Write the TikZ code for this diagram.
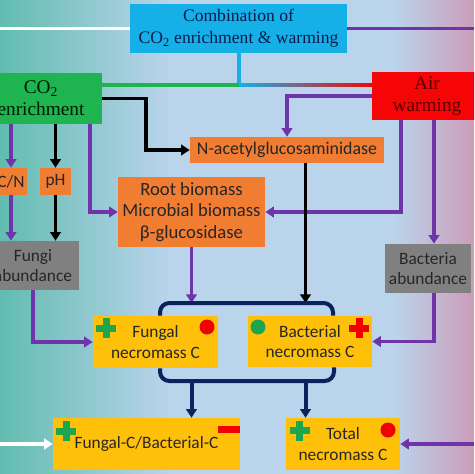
\documentclass[tikz,border=0pt]{standalone}
\usepackage{fontspec}
\setmainfont{Carlito}
\newfontfamily\timesx{Liberation Serif}
\usetikzlibrary{arrows.meta}

\definecolor{bgteal}{RGB}{98,188,176}
\definecolor{bgblue}{RGB}{186,212,236}
\definecolor{bgpink}{RGB}{204,156,184}
\definecolor{cbox}{RGB}{22,176,232}
\definecolor{gbox}{RGB}{30,180,80}
\definecolor{rbox}{RGB}{245,5,5}
\definecolor{obox}{RGB}{240,125,50}
\definecolor{gybox}{RGB}{128,128,128}
\definecolor{ybox}{RGB}{255,192,10}
\definecolor{lpurple}{RGB}{112,52,170}
\definecolor{nv}{RGB}{10,35,95}
\definecolor{icongreen}{RGB}{30,165,80}
\definecolor{iconred}{RGB}{240,0,0}

\tikzset{
  bw/.style={minimum width=#1*0.75pt},
  bh/.style={minimum height=#1*0.75pt},
  box/.style={inner sep=0pt, align=center, text=black!85, font=\fontsize{13}{15.5}\selectfont},
  sbox/.style={box, font=\timesx\fontsize{14.5}{16.5}\selectfont},
  arr/.style={-{Triangle[length=6.5pt,width=8pt]}},
  link/.style={line width=2.6pt, lpurple},
  blk/.style={line width=2.6pt, black},
  brace/.style={line width=3pt, nv},
  crosspic/.pic={\fill (-10,-3.5) rectangle (10,3.5); \fill (-3.5,-10) rectangle (3.5,10);},
  dotpic/.pic={\fill (0,0) circle[radius=7.5];},
  barpic/.pic={\fill (-11,-3.2) rectangle (11,3.2);}
}

\begin{document}
\begin{tikzpicture}[x=0.75pt,y=-0.75pt]

\clip (0,0) rectangle (474,474);
\shade[left color=bgteal, right color=bgblue] (0,0) rectangle (170,474);
\fill[bgblue] (170,0) rectangle (395,474);
\shade[left color=bgblue, right color=bgpink] (395,0) rectangle (474,474);

% treatments
\node[sbox, fill=cbox, bw=217, bh=49, font=\timesx\fontsize{13.2}{16.5}\selectfont, text=nv!80!black] (comb) at (238.5,28.5) {Combination of\\CO\textsubscript{2} enrichment \& warming};
\node[sbox, fill=gbox, bw=122, bh=51, text=black!90!green] (co2) at (41,98.5) {CO\textsubscript{2}\\enrichment};
\node[sbox, fill=rbox, bw=110, bh=48, text=red!35!black] (air) at (427,96) {Air\\warming};

% drivers
\node[box, fill=obox, bw=194, bh=26, font=\fontsize{13.4}{15.5}\selectfont] (nag) at (287,150) {N-acetylglucosaminidase};
\node[box, fill=obox, bw=32, bh=27] (cn) at (11,181.5) {C/N};
\node[box, fill=obox, bw=31, bh=27] (ph) at (55.5,181.5) {pH};
\node[box, fill=obox, bw=147, bh=70, font=\fontsize{14}{16}\selectfont] (root) at (191.5,212) {Root biomass\\Microbial biomass\\β-glucosidase};
\node[box, fill=gybox, bw=92, bh=49] (fungi) at (33,265.5) {Fungi\\abundance};
\node[box, fill=gybox, bw=86, bh=49] (bact) at (428,268.5) {Bacteria\\abundance};

% necromass
\node[box, fill=ybox, bw=125, bh=52] (fnec) at (155.5,342) {Fungal\\necromass C};
\node[box, fill=ybox, bw=124, bh=51] (bnec) at (310,341.5) {Bacterial\\necromass C};
\node[box, fill=ybox, bw=187, bh=52] (ratio) at (146.5,444) {Fungal-C/Bacterial-C};
\node[box, fill=ybox, bw=114, bh=52] (total) at (343,444) {Total\\necromass C};

\coordinate (jn) at (239,85);
\coordinate (lt) at (0,28.5);
\coordinate (rt) at (474,28.5);
\coordinate (lb) at (0,444);
\coordinate (rb) at (474,444);
\coordinate (xa) at (146,0);
\coordinate (xb) at (401,0);
\coordinate (xc) at (434,0);
\coordinate (xd) at (90,0);
\coordinate (xe) at (305.5,0);
\coordinate (tl) at (160,303);
\coordinate (tr) at (333,303);
\coordinate (bl) at (160,381);
\coordinate (br) at (334,381);

% combination = both
\draw[line width=2.6pt, cbox] (comb.south -| jn) -- (jn);
\draw[line width=2.6pt, gbox] (co2.east |- jn) -- (jn);
\shade[left color=cbox, right color=rbox] (239,83.3) rectangle (372,86.7);

\draw[line width=2.6pt, white] (lt) -- (comb.west);
\draw[line width=2.6pt, white, arr] (lb) -- (ratio.west);
\draw[link] (comb.east) -- (rt);
\draw[link, arr] (rb) -- (total.east);

% CO2 paths
\draw[blk, arr] (co2.east) -| (xa |- nag) -- (nag.west);
\draw[blk, arr] (co2.south -| ph) -- (ph.north);
\draw[blk, arr] (ph.south) -- (fungi.north -| ph);
\draw[link, arr] (co2.south -| cn) -- (cn.north);
\draw[link, arr] (cn.south) -- (fungi.north -| cn);
\draw[link, arr] (co2.south -| xd) |- (root.west);
\draw[link, arr] (fungi.south) |- (fnec.west);

% warming paths
\draw[link, arr] (air.west) -| (nag.north);
\draw[link, arr] (air.south -| xb) |- (root.east);
\draw[link, arr] (air.south -| xc) -- (bact.north -| xc);
\draw[link, arr] (bact.south -| xc) |- (bnec.east);

% to necromass
\draw[link, arr] (root.south) -- (root.south |- tl);
\draw[blk, arr] (nag.south -| xe) -- (tl -| xe);
\draw[brace, rounded corners=7pt] (fnec.north -| tl) -- (tl) -- (tr) -- (bnec.north -| tr);
\draw[brace, rounded corners=7pt] (fnec.south -| bl) -- (bl) -- (br) -- (bnec.south -| br);
\draw[brace, arr] (bl -| root.south) -- (ratio.north -| root.south);
\draw[brace, arr] (br -| xe) -- (total.north -| xe);

% effect signs
\pic[color=icongreen] at (106,328) {crosspic};
\pic[color=iconred] at (207,327) {dotpic};
\pic[color=icongreen] at (258,327) {dotpic};
\pic[color=iconred] at (359,328) {crosspic};
\pic[color=icongreen] at (66,431) {crosspic};
\pic[color=iconred] at (229,429.5) {barpic};
\pic[color=icongreen] at (299.5,430.5) {crosspic};
\pic[color=iconred] at (388,430) {dotpic};

\end{tikzpicture}
\end{document}
